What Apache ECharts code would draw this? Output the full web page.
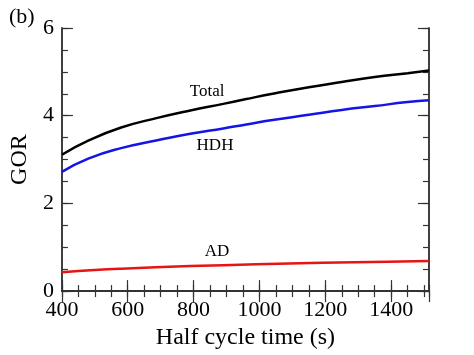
<!DOCTYPE html>
<html>
<head>
<meta charset="utf-8">
<script src="https://cdn.jsdelivr.net/npm/echarts@6/dist/echarts.min.js"></script>
<style>html,body{margin:0;padding:0;background:#fff}#c{width:474px;height:355px}</style>
</head>
<body>
<div id="c"></div>
<script>
// Half cycle time (s)
var timeTotal = [400, 480, 580, 690, 790, 890, 960, 1040, 1150, 1250, 1350, 1450, 1515];
var gorTotal  = [3.11, 3.43, 3.73, 3.95, 4.12, 4.27, 4.38, 4.50, 4.65, 4.77, 4.88, 4.97, 5.03];
var timeHDH = [400, 480, 580, 690, 790, 890, 960, 1040, 1150, 1250, 1350, 1450, 1515];
var gorHDH  = [2.72, 3.02, 3.26, 3.44, 3.59, 3.71, 3.80, 3.90, 4.02, 4.13, 4.22, 4.31, 4.35];
var timeAD = [400, 500, 580, 790, 990, 1190, 1390, 1515];
var gorAD  = [0.43, 0.48, 0.51, 0.57, 0.61, 0.645, 0.67, 0.685];
var seriesNames = ['Total', 'HDH', 'AD'];
var labelPos = [[841, 4.55], [865, 3.33], [871, 0.90]];
var xTicks = [400, 600, 800, 1000, 1200, 1400];
var yTicks = [0, 2, 4, 6];

function pairs(xs, ys) { return xs.map(function (x, i) { return [x, ys[i]]; }); }

var FONT = '"Liberation Serif", "Times New Roman", serif';
var AX = '#333';
var xMin = 400, xMax = 1515, yMin = 0, yMax = 6;

function xAx(pos, major, labels) {
  return {
    type: 'value', position: pos, min: xMin, max: xMax,
    interval: major ? 200 : 50,
    name: labels ? 'Half cycle time (s)' : '',
    nameLocation: 'middle', nameGap: 33,
    nameTextStyle: { fontFamily: FONT, fontSize: 24, color: '#000' },
    axisLine: { show: true, lineStyle: { color: AX, width: 1.5 } },
    axisTick: { show: true, inside: true, length: major ? 11 : 6, lineStyle: { color: AX, width: 1.2 } },
    axisLabel: { show: labels, margin: 8, showMaxLabel: false, fontFamily: FONT, fontSize: 22, color: '#000',
      formatter: function (v) { return xTicks.indexOf(v) >= 0 ? String(v) : ''; } },
    splitLine: { show: false }
  };
}
function yAx(pos, major, labels) {
  return {
    type: 'value', position: pos, min: yMin, max: yMax,
    interval: major ? 2 : 0.5,
    name: labels ? 'GOR' : '',
    nameLocation: 'middle', nameGap: 23,
    nameTextStyle: { fontFamily: FONT, fontSize: 24, color: '#000' },
    axisLine: { show: true, lineStyle: { color: AX, width: 1.5 } },
    axisTick: { show: true, inside: true, length: major ? 11 : 6, lineStyle: { color: AX, width: 1.2 } },
    axisLabel: { show: labels, margin: 8, fontFamily: FONT, fontSize: 22, color: '#000',
      formatter: function (v) { return yTicks.indexOf(v) >= 0 ? String(v) : ''; } },
    splitLine: { show: false }
  };
}

function lineSeries(name, data, color, lp) {
  return {
    name: name, type: 'line', xAxisIndex: 0, yAxisIndex: 0,
    data: data, smooth: true, showSymbol: false, symbol: 'none',
    lineStyle: { color: color, width: 2.5 },
    markPoint: {
      symbol: 'circle', symbolSize: 0, silent: true,
      data: [{ coord: lp, value: name }],
      label: { show: true, position: 'inside', formatter: name, color: '#000', fontFamily: FONT, fontSize: 17 }
    }
  };
}

var chart = echarts.init(document.getElementById('c'), null, { renderer: 'canvas' });
chart.setOption({
  animation: false,
  backgroundColor: '#fff',
  title: { text: '(b)', left: 4, top: 1, textStyle: { fontFamily: FONT, fontSize: 22, fontWeight: 'normal', color: '#000' } },
  grid: { left: 61, right: 45, top: 28, bottom: 61 },
  xAxis: [xAx('bottom', true, true), xAx('bottom', false, false), xAx('top', true, false), xAx('top', false, false)],
  yAxis: [yAx('left', true, true), yAx('left', false, false), yAx('right', true, false), yAx('right', false, false)],
  series: [
    lineSeries(seriesNames[0], pairs(timeTotal, gorTotal), '#000000', labelPos[0]),
    lineSeries(seriesNames[1], pairs(timeHDH, gorHDH), '#1414e6', labelPos[1]),
    lineSeries(seriesNames[2], pairs(timeAD, gorAD), '#e61414', labelPos[2])
  ]
});
</script>
</body>
</html>
